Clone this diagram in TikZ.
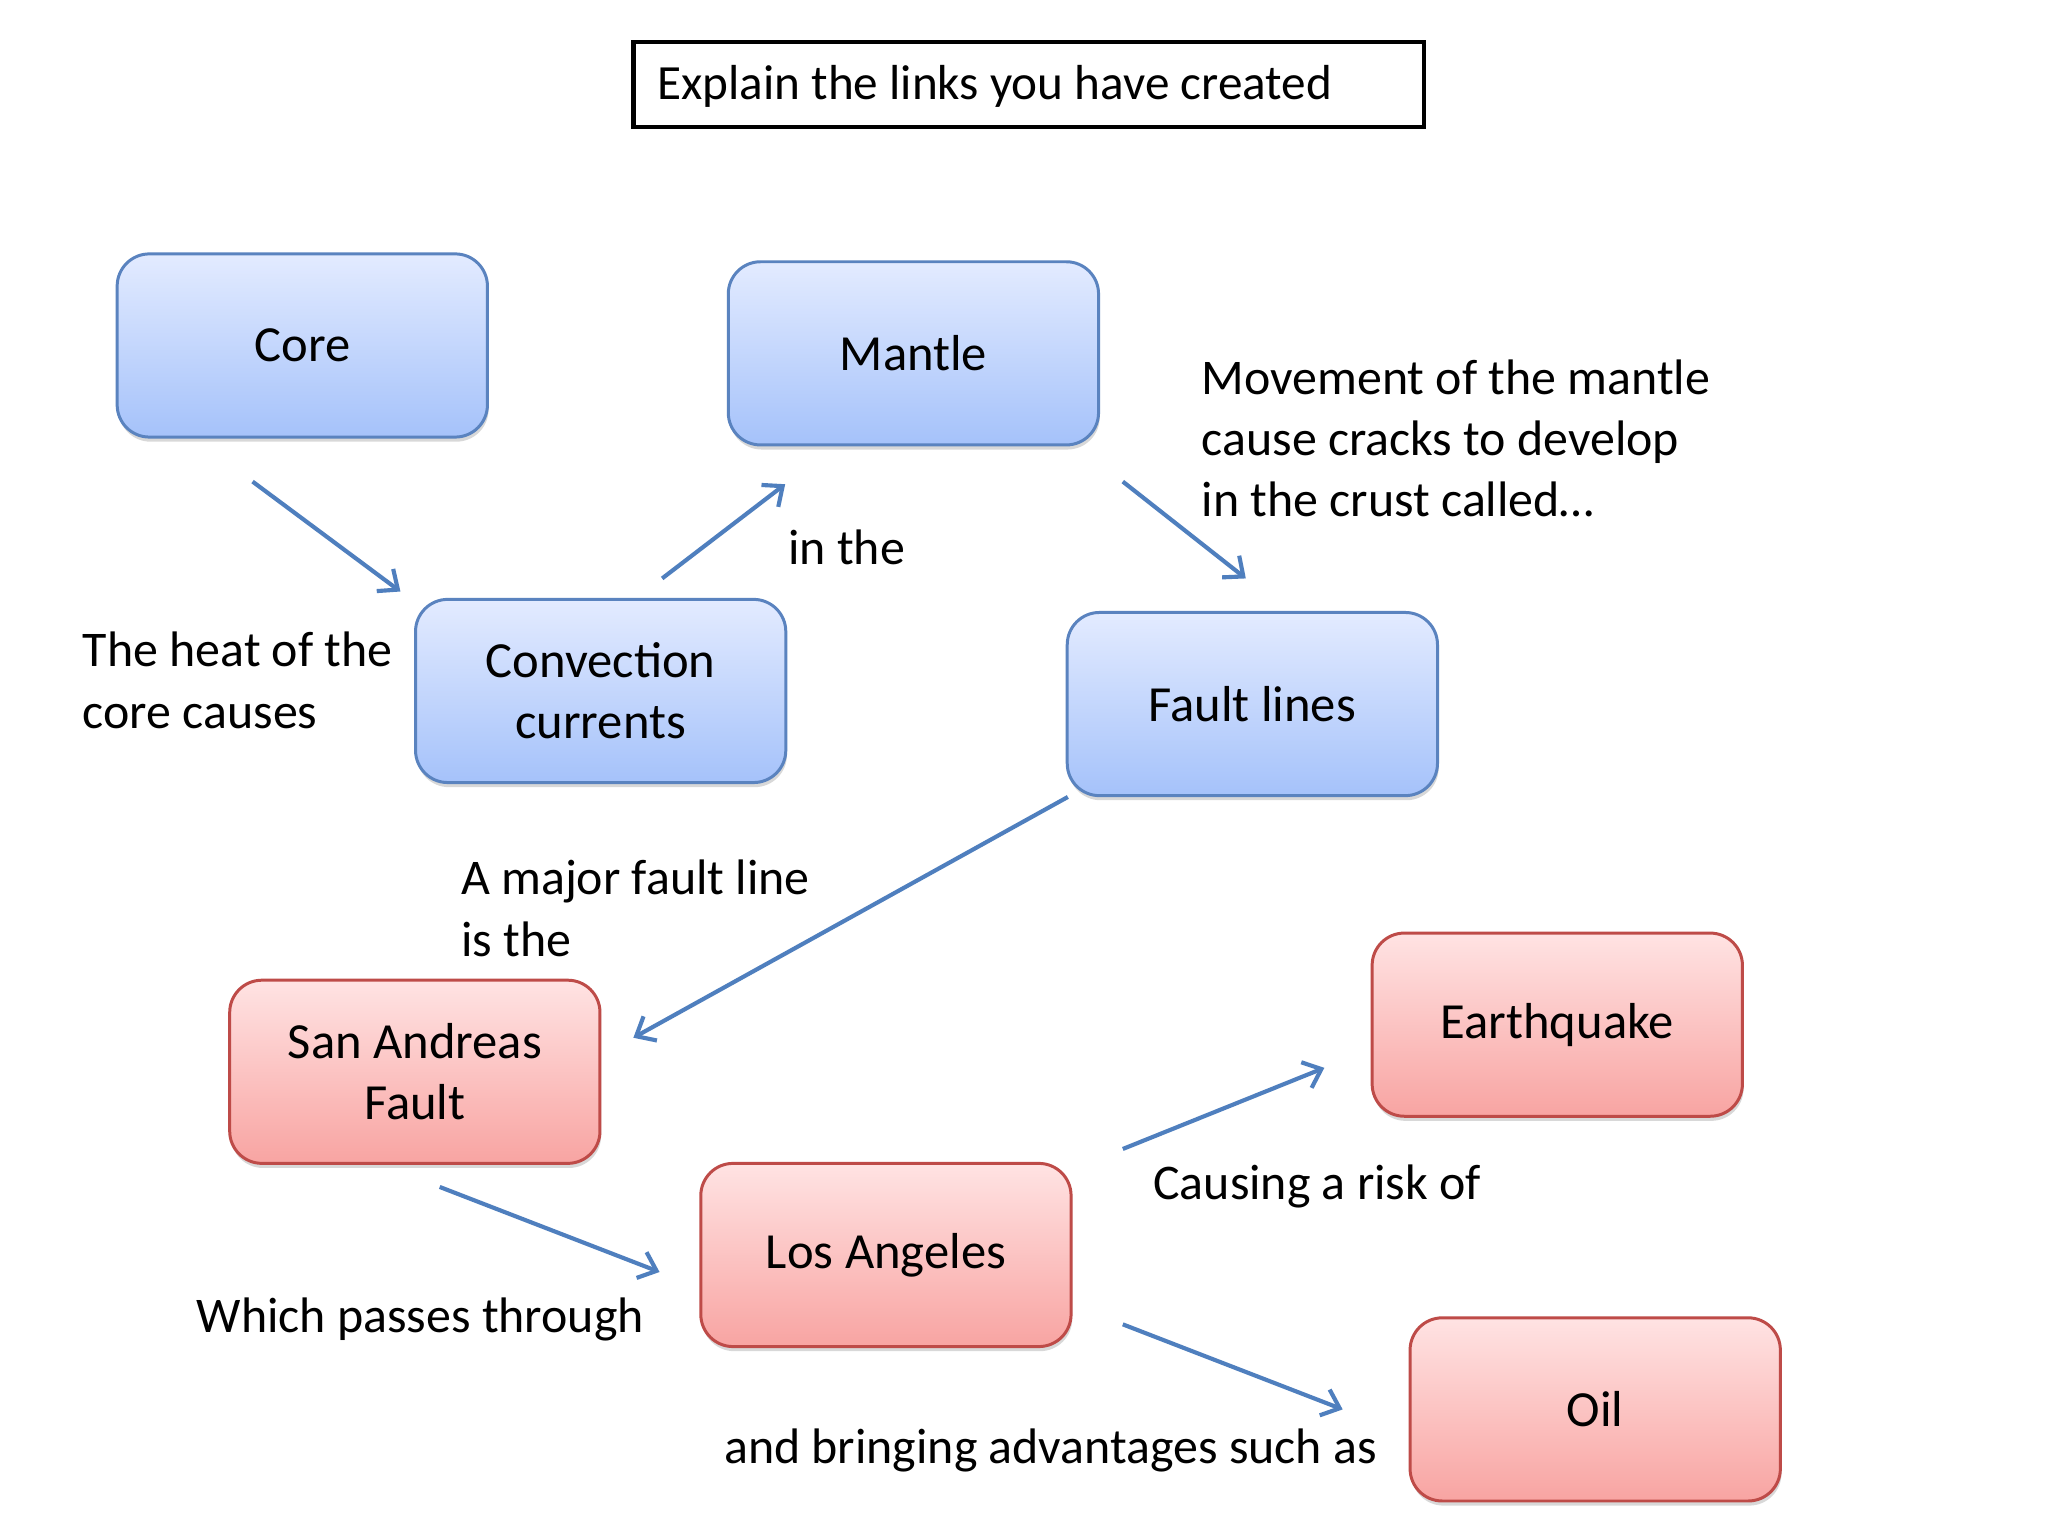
\documentclass[tikz,border=0pt]{standalone}
\usepackage{fontspec}
\setmainfont{Carlito}
\usetikzlibrary{shadows,arrows.meta}
\definecolor{btop}{HTML}{E3EBFF}\definecolor{bbot}{HTML}{A5C2FA}\definecolor{bline}{HTML}{5A83BF}
\definecolor{rtop}{HTML}{FFE3E3}\definecolor{rbot}{HTML}{F8A4A2}\definecolor{rline}{HTML}{BE4B48}
\definecolor{arr}{HTML}{4F7FBE}
\tikzset{
 bx/.style={rounded corners=14pt,minimum width=5.66cm,minimum height=2.8cm,line width=1.3pt,align=center,font=\fontsize{22}{26.5}\selectfont,drop shadow={shadow xshift=0.5pt,shadow yshift=-2pt,opacity=0.3}},
 bluebox/.style={bx,draw=bline,top color=btop,bottom color=bbot},
 redbox/.style={bx,draw=rline,top color=rtop,bottom color=rbot},
 lbl/.style={anchor=west,align=left,inner sep=0pt,font=\fontsize{21.7}{26.7}\selectfont},
 ar/.style={draw=arr,line width=1.8pt,-{Straight Barb[length=7pt,width=12pt]}}
}
\begin{document}
\begin{tikzpicture}[x=0.02cm,y=-0.02cm]
\useasboundingbox[fill=white] (0,0) rectangle (1565,1174);
\node[draw,line width=1.8pt,minimum width=12.08cm,minimum height=1.3cm] (title) at (786,64.5) {};
\node[anchor=west,inner sep=0pt,font=\fontsize{21.4}{24}\selectfont] (tt) at (502,66) {Explain the links you have created};
\node[bluebox] (core) at (231,264) {Core};
\node[bluebox] (mantle) at (698,270) {Mantle};
\node[bluebox] (conv) at (459,528) {Convection\\currents};
\node[bluebox] (fault) at (957,538) {Fault lines};
\node[redbox] (sa) at (317,819) {San Andreas\\Fault};
\node[redbox] (eq) at (1190,783) {Earthquake};
\node[redbox] (la) at (677,959) {Los Angeles};
\node[redbox] (oil) at (1219,1077) {Oil};
\node[lbl] (l1) at (63,520) {The heat of the\\core causes};
\node[lbl] (l2) at (602,418) {in the};
\node[lbl] (l3) at (918,335) {Movement of the mantle\\cause cracks to develop\\in the crust called\ldots};
\node[lbl] (l4) at (352,694) {A major fault line\\is the};
\node[lbl] (l5) at (150,1008) {Which passes through};
\node[lbl] (l6) at (881,907) {Causing a risk of};
\node[lbl] (l7) at (553,1108) {and bringing advantages such as};
\coordinate (a1) at (193,368); \coordinate (b1) at (306,452);
\coordinate (a2) at (506,442); \coordinate (b2) at (600,370);
\coordinate (a3) at (858,368); \coordinate (b3) at (952,442);
\coordinate (a4) at (816,609); \coordinate (b4) at (484,793);
\coordinate (a5) at (336,907); \coordinate (b5) at (504,972);
\coordinate (a6) at (858,878); \coordinate (b6) at (1012,816);
\coordinate (a7) at (858,1012); \coordinate (b7) at (1026,1077);
\foreach \i in {1,...,7} \draw[ar] (a\i) -- (b\i);
\end{tikzpicture}
\end{document}
